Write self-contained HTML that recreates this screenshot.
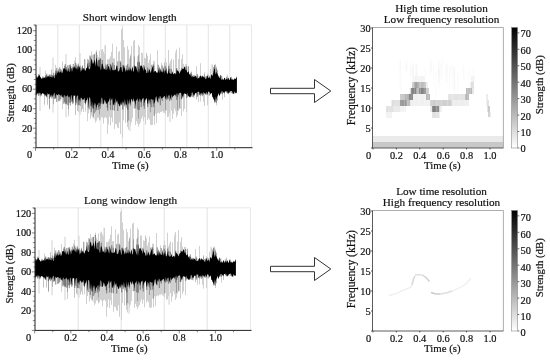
<!DOCTYPE html>
<html><head><meta charset="utf-8"><title>Window length and spectrogram resolution</title>
<style>
html,body{margin:0;padding:0;background:#fff}
svg{display:block}
text{font-family:"Liberation Serif",serif;fill:#111;stroke:#111;stroke-width:0.2px}
.tk{font-size:10.4px}
.lb{font-size:10.8px}
.lb2{font-size:11.5px}
.tt{font-size:11.2px}
</style></head><body>
<svg width="550" height="360" viewBox="0 0 550 360">
<defs><filter id="bl" x="-5%" y="-5%" width="110%" height="110%"><feGaussianBlur stdDeviation="0.6 0.3"/></filter><linearGradient id="cb" x1="0" y1="0" x2="0" y2="1"><stop offset="0" stop-color="#000"/><stop offset="1" stop-color="#fff"/></linearGradient></defs>
<rect width="550" height="360" fill="#fff"/>
<path d="M36 24.9H251.5V147.7" stroke="#e3e3e3" stroke-width="0.8" fill="none"/>
<line x1="57.8" y1="24.9" x2="57.8" y2="147.7" stroke="#dcdcdc" stroke-width="0.8"/>
<line x1="79.3" y1="24.9" x2="79.3" y2="147.7" stroke="#dcdcdc" stroke-width="0.8"/>
<line x1="100.8" y1="24.9" x2="100.8" y2="147.7" stroke="#dcdcdc" stroke-width="0.8"/>
<line x1="122.3" y1="24.9" x2="122.3" y2="147.7" stroke="#dcdcdc" stroke-width="0.8"/>
<line x1="143.8" y1="24.9" x2="143.8" y2="147.7" stroke="#dcdcdc" stroke-width="0.8"/>
<line x1="165.3" y1="24.9" x2="165.3" y2="147.7" stroke="#dcdcdc" stroke-width="0.8"/>
<line x1="186.8" y1="24.9" x2="186.8" y2="147.7" stroke="#dcdcdc" stroke-width="0.8"/>
<line x1="208.3" y1="24.9" x2="208.3" y2="147.7" stroke="#dcdcdc" stroke-width="0.8"/>
<line x1="229.8" y1="24.9" x2="229.8" y2="147.7" stroke="#dcdcdc" stroke-width="0.8"/>
<path d="M36.5 74.7V82.0M49.5 90.1V109.4M55.5 64.9V79.7M62.5 61.4V73.9M62.5 93.6V109.1M68.5 94.2V116.3M74.5 60.8V72.6M75.5 57.2V72.5M78.5 95.3V112.2M83.5 96.7V112.0M85.5 97.4V111.7M87.5 98.1V121.2M88.5 98.5V113.4M90.5 55.5V67.5M90.5 99.5V118.9M91.5 51.5V66.5M91.5 100.5V115.6M92.5 55.0V65.5M92.5 101.5V117.4M93.5 54.7V64.5M93.5 102.5V118.4M94.5 54.3V63.5M95.5 103.4V122.5M96.5 50.0V65.0M96.5 102.2V120.7M97.5 55.0V66.2M97.5 101.0V117.8M98.5 57.0V67.5M98.5 99.8V117.8M99.5 50.6V68.8M99.5 98.6V114.5M100.5 98.0V119.3M101.5 49.8V69.7M101.5 98.1V116.9M102.5 49.0V69.8M102.5 98.1V117.8M103.5 51.7V69.8M103.5 98.1V123.7M104.5 53.9V70.0M104.5 98.2V117.9M105.5 45.5V70.0M105.5 98.2V117.0M106.5 98.3V118.4M107.5 59.2V70.2M107.5 98.3V122.4M108.5 59.5V70.3M108.5 98.3V124.3M109.5 58.5V70.5M109.5 98.4V116.7M110.5 56.4V70.5M110.5 98.4V125.5M111.5 52.0V70.7M111.5 98.5V117.7M112.5 46.7V70.8M112.5 98.5V122.2M113.5 58.5V70.8M114.5 58.4V71.0M114.5 98.6V129.1M115.5 98.6V123.9M116.5 46.6V71.2M116.5 98.7V124.5M117.5 98.7V127.6M118.5 52.1V71.3M118.5 98.7V128.1M119.5 50.8V71.5M119.5 98.8V122.4M120.5 98.8V134.1M121.5 29.4V71.7M122.5 38.2V71.8M122.5 98.9V131.6M123.5 39.8V71.8M123.5 98.9V120.2M124.5 47.2V72.0M125.5 99.0V122.8M127.5 98.9V127.0M128.5 49.6V72.1M128.5 98.9V129.7M129.5 58.6V72.2M129.5 98.8V121.1M130.5 56.8V72.2M130.5 98.8V124.7M131.5 46.1V72.3M131.5 98.7V122.1M132.5 98.7V118.1M133.5 40.9V72.3M134.5 40.1V72.4M135.5 98.6V125.1M136.5 98.5V121.2M137.5 56.4V72.5M137.5 98.5V123.8M138.5 45.1V72.5M138.5 98.5V126.6M139.5 47.0V72.6M139.5 98.4V124.1M140.5 98.4V122.3M141.5 52.7V72.7M141.5 98.3V118.9M142.5 52.9V72.7M142.5 98.3V116.5M143.5 98.3V121.0M144.5 57.7V72.8M144.5 98.2V117.2M145.5 58.2V72.8M145.5 98.2V124.7M147.5 55.6V72.9M147.5 98.1V120.0M148.5 62.9V72.9M148.5 98.1V117.9M149.5 59.7V73.0M149.5 98.0V119.6M150.5 53.8V73.0M150.5 97.8V124.6M151.5 97.5V125.3M152.5 97.2V124.8M153.5 60.8V73.3M153.5 96.8V115.8M154.5 61.3V73.5M154.5 96.5V124.8M155.5 96.2V113.8M156.5 95.8V123.3M157.5 50.3V73.8M157.5 95.5V113.4M158.5 95.2V112.6M159.5 94.8V113.6M160.5 94.5V111.9M161.5 62.7V74.2M161.5 94.2V112.1M162.5 93.8V111.1M163.5 93.5V112.7M164.5 93.2V112.9M165.5 58.2V74.6M165.5 92.9V114.6M166.5 62.2V74.8M166.5 92.8V110.7M167.5 92.6V117.1M168.5 50.0V75.1M168.5 92.4V116.5M169.5 63.6V75.2M169.5 92.2V113.3M170.5 60.9V75.4M171.5 58.7V75.6M171.5 91.9V110.6M172.5 91.8V119.0M173.5 59.8V75.9M173.5 91.6V113.8M174.5 91.4V108.7M175.5 53.3V76.2M175.5 91.2V111.3M176.5 49.2V76.4M176.5 91.1V117.3M177.5 90.9V115.1M178.5 59.0V76.8M178.5 90.8V111.0M179.5 62.7V76.9M179.5 90.6V107.7M180.5 90.7V108.6M181.5 59.0V75.8M181.5 91.1V115.9M182.5 54.5V74.9M183.5 63.9V74.1M183.5 92.0V111.5M184.5 92.4V108.9M185.5 64.3V72.4M186.5 64.1V72.8M186.5 92.7V112.4M188.5 66.9V75.8M196.5 66.3V81.5M198.5 88.6V101.9M200.5 63.2V81.9M200.5 88.5V101.6M203.5 88.4V102.0M204.5 72.4V82.4M204.5 88.3V106.0M207.5 73.7V82.7M207.5 88.1V105.2M208.5 74.2V82.8M210.5 69.0V82.2M212.5 65.2V78.8M214.5 64.7V75.3M215.5 63.8V75.2M216.5 66.5V76.8M216.5 93.5V105.5M222.5 87.0V99.8M227.5 74.6V84.0M230.5 77.0V84.0M40.0 67.0V80.8M45.5 70.7V80.5M53.0 57.5V80.1M66.0 54.0V72.6M80.0 53.0V71.0M87.5 58.7V68.0M105.0 45.0V69.0M112.5 43.7V69.8M122.5 27.5V70.8M127.5 46.0V71.1M131.0 54.0V71.2M176.0 51.0V75.3M179.5 47.5V75.9M212.0 64.0V78.6M40.0 90.3V111.0M53.0 91.3V112.5M66.0 94.9V117.5M80.0 96.5V115.0M95.0 105.0V120.0M107.5 99.3V134.0M122.5 99.9V137.5M130.0 99.8V131.0M170.0 93.2V122.0" stroke="#d0d0d0" stroke-width="1" fill="none"/>
<path d="M37.25 76.3V94.4M38.75 74.0V96.0M39.25 76.6V94.6M46.25 75.0V95.9M46.75 73.7V97.3M49.25 74.5V98.5M51.75 74.6V98.4M52.25 75.7V96.6M52.75 75.5V95.7M53.75 72.8V95.5M54.25 75.1V99.0M55.25 75.2V98.9M55.75 70.5V98.1M56.75 67.8V102.0M58.75 69.2V101.2M59.75 67.3V100.7M60.75 68.9V99.4M63.75 68.7V103.7M64.75 65.8V102.2M65.25 64.1V103.8M66.25 67.0V104.4M67.75 65.3V105.1M69.25 65.1V102.8M70.25 64.3V105.5M70.75 65.8V102.5M71.75 67.8V101.7M72.75 66.9V104.2M73.25 64.0V102.7M75.75 63.0V105.2M76.75 64.9V103.3M78.25 63.7V105.2M79.25 66.7V105.3M84.75 59.2V102.9M88.25 59.8V107.5M89.25 62.5V109.4M90.75 56.6V106.1M91.25 61.2V112.2M94.25 54.2V113.4M96.25 52.2V110.3M98.25 60.2V109.9M98.75 60.2V107.0M99.75 59.6V106.0M100.25 58.3V108.7M101.75 63.8V103.4M102.25 60.0V104.2M107.25 64.7V107.5M107.75 64.1V110.7M110.25 63.7V105.1M110.75 64.5V109.8M112.75 62.7V110.1M114.25 65.0V110.6M117.75 61.4V110.9M120.25 60.9V104.0M120.75 62.6V104.8M122.75 65.1V109.6M124.25 65.9V106.3M126.25 65.4V107.6M127.75 64.3V109.7M134.25 65.9V108.6M135.75 67.1V108.3M137.75 61.9V109.7M139.25 62.5V110.0M141.25 66.7V107.1M143.75 65.1V105.6M144.25 66.4V108.8M147.75 67.4V107.1M151.75 64.8V107.3M153.25 64.4V103.5M153.75 65.8V106.9M158.25 64.7V102.5M160.25 68.6V105.3M162.25 65.4V101.0M165.25 66.0V98.6M168.75 65.9V98.9M169.75 68.5V101.1M171.25 69.2V100.1M176.75 68.0V99.9M177.75 71.1V97.3M181.25 70.7V99.1M181.75 67.9V99.2M186.75 66.3V98.1M190.75 73.3V95.1M191.25 71.7V96.3M191.75 74.3V95.3M192.25 75.7V97.1M193.75 75.1V97.5M197.25 74.0V96.9M197.75 75.6V95.5M199.75 76.4V94.9M202.25 75.5V96.3M203.25 76.6V95.1M205.75 76.4V93.9M209.25 75.5V95.7M213.75 67.0V99.2M214.25 69.1V99.4M214.75 65.1V101.8M216.25 68.2V102.9M217.25 70.0V100.5M220.75 75.1V94.2M221.75 76.1V93.2M222.25 78.8V94.3M226.75 76.6V92.2M227.75 78.2V93.5M228.25 78.1V92.8M231.25 76.9V93.2" stroke="#000" stroke-opacity="0.9" stroke-width="0.5" fill="none"/>
<path d="M44.5 90.7V104.8M47.5 90.9V104.8M49.5 91.1V108.4M51.5 69.5V80.2M53.5 91.4V104.2M66.5 95.0V103.5M68.5 95.2V109.3M75.5 96.0V115.1M77.5 96.2V110.9M80.5 96.7V106.0M81.5 97.0V111.7M82.5 97.4V108.9M89.5 55.5V67.2M93.5 103.5V116.8M95.5 104.4V111.8M99.5 59.7V67.8M99.5 99.6V120.5M100.5 58.4V68.5M127.5 99.9V122.2M128.5 99.9V120.4M130.5 55.4V71.2M134.5 56.6V71.4M138.5 54.9V71.5M138.5 99.5V118.5M139.5 61.5V71.6M146.5 52.9V71.9M150.5 98.8V112.3M154.5 97.5V116.2M164.5 62.7V73.5M165.5 93.9V110.2M177.5 91.9V110.2M179.5 91.6V108.9M188.5 65.8V74.8M196.5 89.8V99.4M200.5 89.5V96.0M204.5 73.9V81.4M214.5 69.2V74.3M214.5 95.8V103.2M220.5 74.9V81.5M224.5 88.0V97.2M228.5 88.0V94.1M232.5 88.0V93.8M233.5 88.0V92.5M234.5 88.0V94.2M236.5 76.4V83.0" stroke="#000" stroke-opacity="0.4" stroke-width="0.6" fill="none"/>
<polygon points="36.0,79.0 36.7,75.8 37.4,78.1 38.1,76.7 38.8,75.6 39.5,74.8 40.2,77.1 40.9,77.5 41.6,78.8 42.3,78.6 43.0,75.9 43.7,78.4 44.4,77.0 45.1,78.4 45.8,75.4 46.5,78.2 47.2,75.5 47.9,77.3 48.6,75.6 49.3,77.6 50.0,74.1 50.7,76.9 51.4,77.3 52.1,77.2 52.8,77.7 53.5,75.8 54.2,78.1 54.9,78.2 55.6,72.2 56.3,75.4 57.0,69.9 57.7,73.5 58.4,70.5 59.1,73.3 59.8,72.0 60.5,72.1 61.2,70.1 61.9,73.4 62.6,72.3 63.3,68.6 64.0,68.5 64.7,68.2 65.4,70.0 66.1,68.3 66.8,71.0 67.5,71.7 68.2,67.6 68.9,71.0 69.6,72.5 70.3,65.9 71.0,72.4 71.7,67.7 72.4,71.9 73.1,66.6 73.8,68.8 74.5,65.5 75.2,68.9 75.9,66.5 76.6,69.7 77.3,65.8 78.0,70.2 78.7,65.2 79.4,68.1 80.1,65.1 80.8,71.8 81.5,70.0 82.2,64.5 82.9,70.2 83.6,67.8 84.3,68.7 85.0,70.8 85.7,70.6 86.4,67.4 87.1,68.2 87.8,62.5 88.5,68.2 89.2,69.2 89.9,69.2 90.6,66.6 91.3,59.0 92.0,59.6 92.7,63.7 93.4,63.4 94.1,61.5 94.8,59.2 95.5,66.7 96.2,57.5 96.9,59.4 97.6,65.3 98.3,67.2 99.0,66.1 99.7,67.1 100.4,69.0 101.1,70.3 101.8,65.2 102.5,63.3 103.2,66.2 103.9,69.5 104.6,68.4 105.3,70.3 106.0,63.1 106.7,70.1 107.4,69.4 108.1,66.7 108.8,65.8 109.5,68.7 110.2,71.0 110.9,69.2 111.6,65.1 112.3,70.4 113.0,69.4 113.7,70.5 114.4,69.9 115.1,70.2 115.8,69.1 116.5,65.5 117.2,65.7 117.9,71.5 118.6,71.2 119.3,70.5 120.0,67.5 120.7,66.9 121.4,67.0 122.1,71.7 122.8,71.7 123.5,64.2 124.2,68.8 124.9,67.1 125.6,72.0 126.3,68.6 127.0,71.5 127.7,70.0 128.4,70.3 129.1,66.1 129.8,71.1 130.5,67.5 131.2,71.5 131.9,69.0 132.6,66.3 133.3,72.0 134.0,70.7 134.7,64.9 135.4,66.7 136.1,66.1 136.8,69.2 137.5,71.2 138.2,72.7 138.9,66.4 139.6,72.8 140.3,65.6 141.0,65.7 141.7,65.5 142.4,67.5 143.1,68.8 143.8,71.2 144.5,67.0 145.2,69.6 145.9,70.3 146.6,72.9 147.3,73.0 148.0,68.8 148.7,73.0 149.4,68.6 150.1,71.1 150.8,73.1 151.5,70.1 152.2,67.8 152.9,65.7 153.6,72.5 154.3,71.6 155.0,70.9 155.7,70.9 156.4,72.7 157.1,72.1 157.8,73.3 158.5,70.3 159.2,66.3 159.9,73.3 160.6,69.2 161.3,70.9 162.0,72.3 162.7,72.3 163.4,66.8 164.1,73.4 164.8,70.6 165.5,71.1 166.2,67.6 166.9,73.3 167.6,73.9 168.3,68.5 169.0,72.9 169.7,72.5 170.4,74.0 171.1,73.6 171.8,73.7 172.5,70.9 173.2,74.2 173.9,74.1 174.6,73.1 175.3,73.2 176.0,74.7 176.7,68.9 177.4,70.4 178.1,71.0 178.8,71.7 179.5,73.7 180.2,71.9 180.9,70.1 181.6,70.5 182.3,68.6 183.0,68.9 183.7,68.8 184.4,66.6 185.1,67.1 185.8,70.4 186.5,69.6 187.2,72.8 187.9,72.0 188.6,71.3 189.3,74.7 190.0,73.6 190.7,75.8 191.4,77.0 192.1,77.2 192.8,76.1 193.5,76.9 194.2,77.0 194.9,75.3 195.6,76.2 196.3,76.5 197.0,78.4 197.7,78.6 198.4,77.7 199.1,78.6 199.8,76.5 200.5,75.4 201.2,76.2 201.9,77.7 202.6,75.8 203.3,76.5 204.0,77.6 204.7,77.2 205.4,78.9 206.1,79.3 206.8,75.7 207.5,75.5 208.2,78.0 208.9,77.7 209.6,76.8 210.3,79.2 211.0,75.7 211.7,74.1 212.4,76.3 213.1,73.7 213.8,70.7 214.5,68.2 215.2,72.4 215.9,74.6 216.6,71.7 217.3,73.5 218.0,75.1 218.7,76.5 219.4,78.4 220.1,75.2 220.8,78.5 221.5,79.9 222.2,80.1 222.9,78.6 223.6,80.2 224.3,77.8 225.0,77.9 225.7,80.2 226.4,78.4 227.1,79.6 227.8,79.7 228.5,77.4 229.2,80.2 229.9,79.3 230.6,76.9 231.3,80.1 232.0,78.5 232.7,79.8 233.4,79.8 234.1,79.5 234.8,78.1 235.5,79.3 236.2,78.1 236.9,77.1 236.9,93.6 236.2,92.6 235.5,93.4 234.8,91.2 234.1,92.7 233.4,94.3 232.7,93.3 232.0,91.1 231.3,90.9 230.6,91.2 229.9,91.5 229.2,93.0 228.5,93.5 227.8,91.1 227.1,93.8 226.4,90.8 225.7,91.4 225.0,91.6 224.3,93.5 223.6,92.7 222.9,91.6 222.2,91.3 221.5,91.2 220.8,92.6 220.1,94.3 219.4,96.6 218.7,93.1 218.0,95.5 217.3,96.0 216.6,99.8 215.9,96.5 215.2,102.6 214.5,100.2 213.8,99.2 213.1,97.3 212.4,97.3 211.7,93.0 211.0,93.1 210.3,94.8 209.6,92.2 208.9,91.6 208.2,91.8 207.5,95.3 206.8,91.5 206.1,95.6 205.4,93.6 204.7,92.8 204.0,94.1 203.3,91.8 202.6,93.5 201.9,94.9 201.2,92.7 200.5,93.6 199.8,95.6 199.1,91.7 198.4,91.7 197.7,91.9 197.0,92.3 196.3,93.8 195.6,92.7 194.9,94.0 194.2,95.7 193.5,95.6 192.8,92.9 192.1,92.0 191.4,92.8 190.7,96.7 190.0,97.4 189.3,96.7 188.6,95.4 187.9,97.3 187.2,93.1 186.5,95.1 185.8,93.7 185.1,94.0 184.4,93.2 183.7,94.2 183.0,97.9 182.3,96.3 181.6,94.3 180.9,92.6 180.2,92.9 179.5,93.0 178.8,93.5 178.1,95.8 177.4,92.9 176.7,93.2 176.0,97.0 175.3,94.6 174.6,94.7 173.9,95.5 173.2,96.0 172.5,98.0 171.8,94.3 171.1,97.0 170.4,99.7 169.7,94.4 169.0,96.0 168.3,94.7 167.6,99.9 166.9,94.4 166.2,100.6 165.5,97.9 164.8,96.2 164.1,96.1 163.4,97.2 162.7,98.0 162.0,97.6 161.3,99.2 160.6,96.5 159.9,95.7 159.2,99.5 158.5,97.1 157.8,100.7 157.1,102.5 156.4,96.2 155.7,97.3 155.0,101.9 154.3,103.8 153.6,98.7 152.9,100.7 152.2,99.2 151.5,99.2 150.8,98.7 150.1,105.6 149.4,100.0 148.7,99.2 148.0,104.6 147.3,102.9 146.6,97.9 145.9,99.0 145.2,100.4 144.5,103.6 143.8,97.8 143.1,98.3 142.4,98.9 141.7,100.2 141.0,103.4 140.3,99.6 139.6,98.5 138.9,102.3 138.2,100.4 137.5,97.9 136.8,100.9 136.1,99.3 135.4,106.2 134.7,100.5 134.0,102.1 133.3,98.0 132.6,102.5 131.9,98.7 131.2,99.6 130.5,106.7 129.8,98.7 129.1,104.9 128.4,102.7 127.7,98.7 127.0,103.7 126.3,105.2 125.6,104.2 124.9,98.8 124.2,105.4 123.5,101.6 122.8,103.7 122.1,100.6 121.4,106.0 120.7,101.6 120.0,106.4 119.3,106.1 118.6,104.0 117.9,103.3 117.2,100.2 116.5,103.1 115.8,98.2 115.1,105.9 114.4,101.9 113.7,104.7 113.0,105.2 112.3,97.9 111.6,100.4 110.9,97.5 110.2,101.0 109.5,97.9 108.8,102.3 108.1,100.9 107.4,103.6 106.7,103.5 106.0,103.8 105.3,101.0 104.6,99.6 103.9,104.5 103.2,103.5 102.5,98.8 101.8,97.6 101.1,98.5 100.4,104.5 99.7,102.8 99.0,102.5 98.3,103.0 97.6,104.7 96.9,105.5 96.2,109.0 95.5,102.9 94.8,105.5 94.1,102.4 93.4,108.8 92.7,108.8 92.0,100.9 91.3,107.5 90.6,99.8 89.9,97.4 89.2,97.3 88.5,106.6 87.8,97.2 87.1,99.6 86.4,100.6 85.7,105.0 85.0,100.2 84.3,97.4 83.6,99.4 82.9,100.3 82.2,99.1 81.5,98.0 80.8,97.6 80.1,102.5 79.4,98.8 78.7,101.4 78.0,95.5 77.3,95.7 76.6,96.5 75.9,102.9 75.2,95.2 74.5,95.9 73.8,95.1 73.1,96.5 72.4,102.2 71.7,95.5 71.0,94.9 70.3,100.2 69.6,96.5 68.9,96.4 68.2,97.3 67.5,94.9 66.8,95.9 66.1,96.3 65.4,96.7 64.7,95.2 64.0,94.9 63.3,98.5 62.6,96.5 61.9,97.6 61.2,94.5 60.5,96.1 59.8,94.8 59.1,94.6 58.4,94.0 57.7,95.4 57.0,94.7 56.3,93.7 55.6,97.8 54.9,93.2 54.2,93.1 53.5,94.2 52.8,94.9 52.1,97.5 51.4,94.1 50.7,97.8 50.0,94.5 49.3,93.6 48.6,94.1 47.9,95.0 47.2,92.7 46.5,97.3 45.8,94.3 45.1,96.4 44.4,94.3 43.7,94.3 43.0,93.1 42.3,93.5 41.6,94.3 40.9,96.7 40.2,93.0 39.5,93.1 38.8,92.3 38.1,94.5 37.4,92.7 36.7,93.9 36.0,96.0" fill="#000"/>
<path d="M36 24.9V147.7H252.5" stroke="#222" stroke-width="1" fill="none"/>
<path d="M36 147.70h-3.2M36 142.82h-1.5M36 137.95h-2.2M36 133.07h-1.5M36 128.20h-3.2M36 123.32h-1.5M36 118.45h-2.2M36 113.57h-1.5M36 108.70h-3.2M36 103.82h-1.5M36 98.95h-2.2M36 94.07h-1.5M36 89.20h-3.2M36 84.32h-1.5M36 79.45h-2.2M36 74.57h-1.5M36 69.70h-3.2M36 64.82h-1.5M36 59.95h-2.2M36 55.07h-1.5M36 50.20h-3.2M36 45.32h-1.5M36 40.45h-2.2M36 35.57h-1.5M36 30.70h-3.2M36 25.82h-1.5M36 24.9h-2.5M35.50 147.7v3.0M53.62 147.7v1.8M71.74 147.7v3.0M89.86 147.7v1.8M107.98 147.7v3.0M126.10 147.7v1.8M144.22 147.7v3.0M162.34 147.7v1.8M180.46 147.7v3.0M198.58 147.7v1.8M216.70 147.7v3.0M234.82 147.7v1.8" stroke="#333" stroke-width="0.6" fill="none"/>
<text x="32.3" y="132" text-anchor="end" class="tk">20</text>
<text x="32.3" y="112" text-anchor="end" class="tk">40</text>
<text x="32.3" y="92" text-anchor="end" class="tk">60</text>
<text x="32.3" y="73" text-anchor="end" class="tk">80</text>
<text x="32.3" y="53" text-anchor="end" class="tk">100</text>
<text x="32.3" y="34" text-anchor="end" class="tk">120</text>
<text x="29.7" y="158.29999999999998" text-anchor="middle" class="tk">0</text>
<text x="71.7" y="158.29999999999998" text-anchor="middle" class="tk">0.2</text>
<text x="108.0" y="158.29999999999998" text-anchor="middle" class="tk">0.4</text>
<text x="144.2" y="158.29999999999998" text-anchor="middle" class="tk">0.6</text>
<text x="180.5" y="158.29999999999998" text-anchor="middle" class="tk">0.8</text>
<text x="216.7" y="158.29999999999998" text-anchor="middle" class="tk">1.0</text>
<text x="130.3" y="169.1" text-anchor="middle" class="lb">Time (s)</text>
<text transform="translate(13.8,92.69999999999999) rotate(-90)" text-anchor="middle" class="lb">Strength (dB)</text>
<text x="129.8" y="20.7" text-anchor="middle" class="tt">Short window length</text>
<path d="M35 207.8H250.5V330.4" stroke="#e3e3e3" stroke-width="0.8" fill="none"/>
<line x1="78.2" y1="207.8" x2="78.2" y2="330.4" stroke="#dcdcdc" stroke-width="0.8"/>
<line x1="121.2" y1="207.8" x2="121.2" y2="330.4" stroke="#dcdcdc" stroke-width="0.8"/>
<line x1="164.2" y1="207.8" x2="164.2" y2="330.4" stroke="#dcdcdc" stroke-width="0.8"/>
<line x1="207.2" y1="207.8" x2="207.2" y2="330.4" stroke="#dcdcdc" stroke-width="0.8"/>
<path d="M35.5 257.4V264.7M48.5 272.8V292.1M54.5 247.6V262.4M61.5 244.1V256.6M61.5 276.3V291.8M67.5 276.9V299.0M73.5 243.5V255.3M74.5 239.9V255.2M77.5 278.0V294.9M82.5 279.4V294.7M84.5 280.1V294.4M86.5 280.8V303.9M87.5 281.2V296.1M89.5 238.2V250.2M89.5 282.2V301.6M90.5 234.2V249.2M90.5 283.2V298.3M91.5 237.7V248.2M91.5 284.2V300.1M92.5 237.4V247.2M92.5 285.2V301.1M93.5 237.0V246.2M94.5 286.1V305.2M95.5 232.7V247.6M95.5 284.9V303.4M96.5 237.7V248.9M96.5 283.7V300.5M97.5 239.7V250.2M97.5 282.5V300.5M98.5 233.3V251.5M98.5 281.3V297.2M99.5 280.7V302.0M100.5 232.5V252.3M100.5 280.8V299.6M101.5 231.7V252.4M101.5 280.8V300.5M102.5 234.4V252.5M102.5 280.8V306.4M103.5 236.6V252.6M103.5 280.9V300.6M104.5 228.2V252.8M104.5 280.9V299.7M105.5 281.0V301.1M106.5 241.9V252.9M106.5 281.0V305.1M107.5 242.2V253.0M107.5 281.0V307.0M108.5 241.2V253.1M108.5 281.1V299.4M109.5 239.1V253.2M109.5 281.1V308.2M110.5 234.7V253.3M110.5 281.2V300.4M111.5 229.4V253.4M111.5 281.2V304.9M112.5 241.2V253.5M113.5 241.1V253.6M113.5 281.3V311.8M114.5 281.3V306.6M115.5 229.3V253.8M115.5 281.4V307.2M116.5 281.4V310.3M117.5 234.8V254.0M117.5 281.4V310.8M118.5 233.5V254.1M118.5 281.5V305.1M119.5 281.5V316.8M120.5 212.1V254.3M121.5 220.9V254.4M121.5 281.6V314.3M122.5 222.5V254.5M122.5 281.6V302.9M123.5 229.9V254.6M124.5 281.7V305.5M126.5 281.6V309.7M127.5 232.3V254.8M127.5 281.6V312.4M128.5 241.3V254.9M128.5 281.5V303.8M129.5 239.5V254.9M129.5 281.5V307.4M130.5 228.8V255.0M130.5 281.4V304.8M131.5 281.4V300.8M132.5 223.6V255.0M133.5 222.8V255.1M134.5 281.3V307.8M135.5 281.2V303.9M136.5 239.1V255.2M136.5 281.2V306.5M137.5 227.8V255.2M137.5 281.2V309.3M138.5 229.7V255.3M138.5 281.1V306.8M139.5 281.1V305.0M140.5 235.4V255.4M140.5 281.0V301.6M141.5 235.6V255.4M141.5 281.0V299.2M142.5 281.0V303.7M143.5 240.4V255.5M143.5 280.9V299.9M144.5 240.9V255.5M144.5 280.9V307.4M146.5 238.3V255.6M146.5 280.8V302.7M147.5 245.6V255.6M147.5 280.8V300.6M148.5 242.4V255.7M148.5 280.7V302.3M149.5 236.5V255.8M149.5 280.5V307.3M150.5 280.2V308.0M151.5 279.9V307.5M152.5 243.5V256.0M152.5 279.5V298.5M153.5 244.0V256.1M153.5 279.2V307.5M154.5 278.9V296.5M155.5 278.5V306.0M156.5 233.0V256.4M156.5 278.2V296.1M157.5 277.9V295.3M158.5 277.5V296.3M159.5 277.2V294.6M160.5 245.4V256.9M160.5 276.9V294.8M161.5 276.5V293.8M162.5 276.2V295.4M163.5 275.9V295.6M164.5 240.9V257.3M164.5 275.6V297.3M165.5 244.9V257.4M165.5 275.4V293.4M166.5 275.3V299.8M167.5 232.7V257.8M167.5 275.1V299.2M168.5 246.3V257.9M168.5 274.9V296.0M169.5 243.6V258.1M170.5 241.4V258.3M170.5 274.6V293.3M171.5 274.4V301.7M172.5 242.5V258.6M172.5 274.3V296.5M173.5 274.1V291.4M174.5 236.0V258.9M174.5 273.9V294.0M175.5 231.9V259.1M175.5 273.8V300.0M176.5 273.6V297.8M177.5 241.7V259.4M177.5 273.4V293.7M178.5 245.4V259.6M178.5 273.3V290.4M179.5 273.4V291.3M180.5 241.7V258.4M180.5 273.8V298.6M181.5 237.2V257.6M182.5 246.6V256.8M182.5 274.7V294.2M183.5 275.1V291.6M184.5 247.0V255.1M185.5 246.8V255.4M185.5 275.4V295.1M187.5 249.6V258.4M195.5 249.0V264.2M197.5 271.3V284.6M199.5 245.9V264.6M199.5 271.2V284.3M202.5 271.1V284.7M203.5 255.1V265.1M203.5 271.0V288.7M206.5 256.4V265.4M206.5 270.8V287.9M207.5 256.9V265.5M209.5 251.7V264.9M211.5 247.9V261.4M213.5 247.4V258.0M214.5 246.5V257.9M215.5 249.2V259.4M215.5 276.2V288.2M221.5 269.7V282.5M226.5 257.3V266.7M229.5 259.7V266.7M39.0 249.7V263.5M44.5 253.4V263.2M52.0 240.2V262.8M65.0 236.7V255.3M79.0 235.7V253.7M86.5 241.4V250.7M104.0 227.7V251.7M111.5 226.4V252.4M121.5 210.2V253.4M126.5 228.7V253.8M130.0 236.7V253.9M175.0 233.7V258.0M178.5 230.2V258.6M211.0 246.7V261.3M39.0 273.0V293.7M52.0 274.0V295.2M65.0 277.6V300.2M79.0 279.2V297.7M94.0 287.7V302.7M106.5 282.0V316.7M121.5 282.6V320.2M129.0 282.5V313.7M169.0 275.9V304.7" stroke="#d0d0d0" stroke-width="1" fill="none"/>
<path d="M36.25 259.0V277.1M37.75 256.7V278.7M38.25 259.3V277.3M45.25 257.7V278.6M45.75 256.4V280.0M48.25 257.2V281.2M50.75 257.3V281.1M51.25 258.4V279.3M51.75 258.2V278.4M52.75 255.5V278.2M53.25 257.8V281.7M54.25 257.9V281.6M54.75 253.2V280.8M55.75 250.5V284.7M57.75 251.9V283.9M58.75 250.0V283.4M59.75 251.6V282.1M62.75 251.4V286.4M63.75 248.5V284.9M64.25 246.8V286.5M65.25 249.7V287.1M66.75 248.0V287.8M68.25 247.8V285.5M69.25 247.0V288.2M69.75 248.5V285.2M70.75 250.5V284.4M71.75 249.6V286.9M72.25 246.7V285.4M74.75 245.7V287.9M75.75 247.6V286.0M77.25 246.4V287.9M78.25 249.4V288.0M83.75 241.9V285.6M87.25 242.5V290.2M88.25 245.2V292.1M89.75 239.3V288.8M90.25 243.9V294.9M93.25 236.9V296.1M95.25 234.9V293.0M97.25 242.9V292.6M97.75 242.9V289.7M98.75 242.3V288.7M99.25 241.0V291.4M100.75 246.5V286.1M101.25 242.7V286.9M106.25 247.4V290.2M106.75 246.8V293.4M109.25 246.4V287.8M109.75 247.2V292.5M111.75 245.4V292.8M113.25 247.7V293.3M116.75 244.1V293.6M119.25 243.6V286.7M119.75 245.3V287.5M121.75 247.8V292.3M123.25 248.6V289.0M125.25 248.1V290.3M126.75 247.0V292.4M133.25 248.6V291.3M134.75 249.8V291.0M136.75 244.6V292.4M138.25 245.2V292.7M140.25 249.4V289.8M142.75 247.8V288.3M143.25 249.1V291.5M146.75 250.1V289.8M150.75 247.5V290.0M152.25 247.1V286.2M152.75 248.5V289.6M157.25 247.4V285.2M159.25 251.3V288.0M161.25 248.1V283.7M164.25 248.7V281.3M167.75 248.6V281.6M168.75 251.2V283.8M170.25 251.9V282.8M175.75 250.7V282.6M176.75 253.8V280.0M180.25 253.4V281.8M180.75 250.6V281.9M185.75 249.0V280.8M189.75 256.0V277.8M190.25 254.4V279.0M190.75 257.0V278.0M191.25 258.4V279.8M192.75 257.8V280.2M196.25 256.7V279.6M196.75 258.3V278.2M198.75 259.1V277.6M201.25 258.2V279.0M202.25 259.3V277.8M204.75 259.1V276.6M208.25 258.2V278.4M212.75 249.7V281.9M213.25 251.8V282.1M213.75 247.8V284.5M215.25 250.9V285.6M216.25 252.7V283.2M219.75 257.8V276.9M220.75 258.8V275.9M221.25 261.5V277.0M225.75 259.3V274.9M226.75 260.9V276.2M227.25 260.8V275.5M230.25 259.6V275.9" stroke="#000" stroke-opacity="0.9" stroke-width="0.5" fill="none"/>
<path d="M43.5 273.4V287.5M46.5 273.6V287.5M48.5 273.8V291.1M50.5 252.2V262.9M52.5 274.1V286.9M65.5 277.7V286.2M67.5 277.9V292.0M74.5 278.7V297.8M76.5 278.9V293.6M79.5 279.4V288.7M80.5 279.7V294.4M81.5 280.1V291.6M88.5 238.2V249.9M92.5 286.2V299.5M94.5 287.1V294.5M98.5 242.4V250.5M98.5 282.3V303.2M99.5 241.1V251.2M126.5 282.6V304.9M127.5 282.6V303.1M129.5 238.1V253.9M133.5 239.3V254.1M137.5 237.6V254.2M137.5 282.2V301.2M138.5 244.2V254.3M145.5 235.6V254.6M149.5 281.5V295.0M153.5 280.2V298.9M163.5 245.4V256.1M164.5 276.6V292.9M176.5 274.6V292.9M178.5 274.3V291.6M187.5 248.5V257.4M195.5 272.4V282.1M199.5 272.2V278.7M203.5 256.6V264.1M213.5 251.9V257.0M213.5 278.4V285.9M219.5 257.6V264.2M223.5 270.7V279.9M227.5 270.7V276.8M231.5 270.7V276.5M232.5 270.7V275.2M233.5 270.7V276.9M235.5 259.1V265.7" stroke="#000" stroke-opacity="0.4" stroke-width="0.6" fill="none"/>
<polygon points="35.0,261.7 35.7,258.5 36.4,260.8 37.1,259.4 37.8,258.3 38.5,257.5 39.2,259.8 39.9,260.2 40.6,261.5 41.3,261.3 42.0,258.6 42.7,261.1 43.4,259.7 44.1,261.1 44.8,258.1 45.5,260.9 46.2,258.2 46.9,260.0 47.6,258.3 48.3,260.3 49.0,256.8 49.7,259.6 50.4,260.0 51.1,259.9 51.8,260.4 52.5,258.5 53.2,260.8 53.9,260.9 54.6,254.9 55.3,258.1 56.0,252.6 56.7,256.2 57.4,253.2 58.1,256.0 58.8,254.7 59.5,254.8 60.2,252.8 60.9,256.1 61.6,255.0 62.3,251.3 63.0,251.2 63.7,250.9 64.4,252.7 65.1,251.0 65.8,253.7 66.5,254.4 67.2,250.3 67.9,253.7 68.6,255.2 69.3,248.6 70.0,255.1 70.7,250.4 71.4,254.6 72.1,249.3 72.8,251.5 73.5,248.2 74.2,251.6 74.9,249.2 75.6,252.4 76.3,248.5 77.0,252.9 77.7,247.9 78.4,250.8 79.1,247.8 79.8,254.5 80.5,252.7 81.2,247.2 81.9,252.9 82.6,250.5 83.3,251.4 84.0,253.5 84.7,253.3 85.4,250.1 86.1,250.9 86.8,245.2 87.5,250.9 88.2,251.9 88.9,251.9 89.6,249.3 90.3,241.7 91.0,242.3 91.7,246.4 92.4,246.1 93.1,244.2 93.8,241.9 94.5,249.4 95.2,240.2 95.9,242.1 96.6,248.0 97.3,249.9 98.0,248.8 98.7,249.8 99.4,251.7 100.1,253.0 100.8,247.9 101.5,246.0 102.2,248.9 102.9,252.2 103.6,251.1 104.3,253.0 105.0,245.8 105.7,252.8 106.4,252.1 107.1,249.4 107.8,248.5 108.5,251.4 109.2,253.7 109.9,251.9 110.6,247.8 111.3,253.1 112.0,252.1 112.7,253.2 113.4,252.6 114.1,252.9 114.8,251.8 115.5,248.2 116.2,248.4 116.9,254.2 117.6,253.9 118.3,253.2 119.0,250.2 119.7,249.6 120.4,249.7 121.1,254.4 121.8,254.4 122.5,246.9 123.2,251.5 123.9,249.8 124.6,254.7 125.3,251.3 126.0,254.2 126.7,252.7 127.4,253.0 128.1,248.8 128.8,253.8 129.5,250.2 130.2,254.2 130.9,251.7 131.6,249.0 132.3,254.7 133.0,253.4 133.7,247.6 134.4,249.4 135.1,248.8 135.8,251.9 136.5,253.9 137.2,255.4 137.9,249.1 138.6,255.5 139.3,248.3 140.0,248.4 140.7,248.2 141.4,250.2 142.1,251.5 142.8,253.9 143.5,249.7 144.2,252.3 144.9,253.0 145.6,255.6 146.3,255.7 147.0,251.5 147.7,255.7 148.4,251.3 149.1,253.8 149.8,255.8 150.5,252.8 151.2,250.5 151.9,248.4 152.6,255.2 153.3,254.3 154.0,253.6 154.7,253.6 155.4,255.4 156.1,254.8 156.8,256.0 157.5,253.0 158.2,249.0 158.9,256.0 159.6,251.9 160.3,253.6 161.0,255.0 161.7,255.0 162.4,249.5 163.1,256.1 163.8,253.3 164.5,253.8 165.2,250.3 165.9,256.0 166.6,256.6 167.3,251.2 168.0,255.6 168.7,255.2 169.4,256.7 170.1,256.3 170.8,256.4 171.5,253.6 172.2,256.9 172.9,256.8 173.6,255.8 174.3,255.9 175.0,257.4 175.7,251.6 176.4,253.1 177.1,253.7 177.8,254.4 178.5,256.4 179.2,254.6 179.9,252.8 180.6,253.2 181.3,251.3 182.0,251.6 182.7,251.5 183.4,249.3 184.1,249.8 184.8,253.1 185.5,252.3 186.2,255.5 186.9,254.7 187.6,254.0 188.3,257.4 189.0,256.3 189.7,258.5 190.4,259.7 191.1,259.9 191.8,258.8 192.5,259.6 193.2,259.7 193.9,258.0 194.6,258.9 195.3,259.2 196.0,261.1 196.7,261.3 197.4,260.4 198.1,261.3 198.8,259.2 199.5,258.1 200.2,258.9 200.9,260.4 201.6,258.5 202.3,259.2 203.0,260.3 203.7,259.9 204.4,261.6 205.1,262.0 205.8,258.4 206.5,258.2 207.2,260.7 207.9,260.4 208.6,259.5 209.3,261.9 210.0,258.4 210.7,256.8 211.4,259.0 212.1,256.4 212.8,253.4 213.5,250.9 214.2,255.1 214.9,257.3 215.6,254.4 216.3,256.2 217.0,257.8 217.7,259.2 218.4,261.1 219.1,257.9 219.8,261.2 220.5,262.6 221.2,262.8 221.9,261.3 222.6,262.9 223.3,260.5 224.0,260.6 224.7,262.9 225.4,261.1 226.1,262.3 226.8,262.4 227.5,260.1 228.2,262.9 228.9,262.0 229.6,259.6 230.3,262.8 231.0,261.2 231.7,262.5 232.4,262.5 233.1,262.2 233.8,260.8 234.5,262.0 235.2,260.8 235.9,259.8 235.9,276.3 235.2,275.3 234.5,276.1 233.8,273.9 233.1,275.4 232.4,277.0 231.7,276.0 231.0,273.8 230.3,273.6 229.6,273.9 228.9,274.2 228.2,275.7 227.5,276.2 226.8,273.8 226.1,276.5 225.4,273.5 224.7,274.1 224.0,274.3 223.3,276.2 222.6,275.4 221.9,274.3 221.2,274.0 220.5,273.9 219.8,275.3 219.1,277.0 218.4,279.3 217.7,275.8 217.0,278.2 216.3,278.7 215.6,282.5 214.9,279.2 214.2,285.3 213.5,282.9 212.8,281.9 212.1,280.0 211.4,280.0 210.7,275.7 210.0,275.8 209.3,277.5 208.6,274.9 207.9,274.3 207.2,274.5 206.5,278.0 205.8,274.2 205.1,278.3 204.4,276.3 203.7,275.5 203.0,276.8 202.3,274.5 201.6,276.2 200.9,277.6 200.2,275.4 199.5,276.3 198.8,278.3 198.1,274.4 197.4,274.4 196.7,274.6 196.0,275.0 195.3,276.5 194.6,275.4 193.9,276.7 193.2,278.4 192.5,278.3 191.8,275.6 191.1,274.7 190.4,275.5 189.7,279.4 189.0,280.1 188.3,279.4 187.6,278.1 186.9,280.0 186.2,275.8 185.5,277.8 184.8,276.4 184.1,276.7 183.4,275.9 182.7,276.9 182.0,280.6 181.3,279.0 180.6,277.0 179.9,275.3 179.2,275.6 178.5,275.7 177.8,276.2 177.1,278.5 176.4,275.6 175.7,275.9 175.0,279.7 174.3,277.3 173.6,277.4 172.9,278.2 172.2,278.7 171.5,280.7 170.8,277.0 170.1,279.7 169.4,282.4 168.7,277.1 168.0,278.7 167.3,277.4 166.6,282.6 165.9,277.1 165.2,283.3 164.5,280.6 163.8,278.9 163.1,278.8 162.4,279.9 161.7,280.7 161.0,280.3 160.3,281.9 159.6,279.2 158.9,278.4 158.2,282.2 157.5,279.8 156.8,283.4 156.1,285.2 155.4,278.9 154.7,280.0 154.0,284.6 153.3,286.5 152.6,281.4 151.9,283.4 151.2,281.9 150.5,281.9 149.8,281.4 149.1,288.3 148.4,282.7 147.7,281.9 147.0,287.3 146.3,285.6 145.6,280.6 144.9,281.7 144.2,283.1 143.5,286.3 142.8,280.5 142.1,281.0 141.4,281.6 140.7,282.9 140.0,286.1 139.3,282.3 138.6,281.2 137.9,285.0 137.2,283.1 136.5,280.6 135.8,283.6 135.1,282.0 134.4,288.9 133.7,283.2 133.0,284.8 132.3,280.7 131.6,285.2 130.9,281.4 130.2,282.3 129.5,289.4 128.8,281.4 128.1,287.6 127.4,285.4 126.7,281.4 126.0,286.4 125.3,287.9 124.6,286.9 123.9,281.5 123.2,288.1 122.5,284.3 121.8,286.4 121.1,283.3 120.4,288.7 119.7,284.3 119.0,289.1 118.3,288.8 117.6,286.7 116.9,286.0 116.2,282.9 115.5,285.8 114.8,280.9 114.1,288.6 113.4,284.6 112.7,287.4 112.0,287.9 111.3,280.6 110.6,283.1 109.9,280.2 109.2,283.7 108.5,280.6 107.8,285.0 107.1,283.6 106.4,286.3 105.7,286.2 105.0,286.5 104.3,283.7 103.6,282.3 102.9,287.2 102.2,286.2 101.5,281.5 100.8,280.3 100.1,281.2 99.4,287.2 98.7,285.5 98.0,285.2 97.3,285.7 96.6,287.4 95.9,288.2 95.2,291.7 94.5,285.6 93.8,288.2 93.1,285.1 92.4,291.5 91.7,291.5 91.0,283.6 90.3,290.2 89.6,282.5 88.9,280.1 88.2,280.0 87.5,289.3 86.8,279.9 86.1,282.3 85.4,283.3 84.7,287.7 84.0,282.9 83.3,280.1 82.6,282.1 81.9,283.0 81.2,281.8 80.5,280.7 79.8,280.3 79.1,285.2 78.4,281.5 77.7,284.1 77.0,278.2 76.3,278.4 75.6,279.2 74.9,285.6 74.2,277.9 73.5,278.6 72.8,277.8 72.1,279.2 71.4,284.9 70.7,278.2 70.0,277.6 69.3,282.9 68.6,279.2 67.9,279.1 67.2,280.0 66.5,277.6 65.8,278.6 65.1,279.0 64.4,279.4 63.7,277.9 63.0,277.6 62.3,281.2 61.6,279.2 60.9,280.3 60.2,277.2 59.5,278.8 58.8,277.5 58.1,277.3 57.4,276.7 56.7,278.1 56.0,277.4 55.3,276.4 54.6,280.5 53.9,275.9 53.2,275.8 52.5,276.9 51.8,277.6 51.1,280.2 50.4,276.8 49.7,280.5 49.0,277.2 48.3,276.3 47.6,276.8 46.9,277.7 46.2,275.4 45.5,280.0 44.8,277.0 44.1,279.1 43.4,277.0 42.7,277.0 42.0,275.8 41.3,276.2 40.6,277.0 39.9,279.4 39.2,275.7 38.5,275.8 37.8,275.0 37.1,277.2 36.4,275.4 35.7,276.6 35.0,278.7" fill="#000"/>
<path d="M35 207.8V330.4H251.5" stroke="#222" stroke-width="1" fill="none"/>
<path d="M35 330.40h-3.2M35 325.52h-1.5M35 320.65h-2.2M35 315.77h-1.5M35 310.90h-3.2M35 306.02h-1.5M35 301.15h-2.2M35 296.27h-1.5M35 291.40h-3.2M35 286.52h-1.5M35 281.65h-2.2M35 276.77h-1.5M35 271.90h-3.2M35 267.02h-1.5M35 262.15h-2.2M35 257.27h-1.5M35 252.40h-3.2M35 247.52h-1.5M35 242.65h-2.2M35 237.77h-1.5M35 232.90h-3.2M35 228.02h-1.5M35 223.15h-2.2M35 218.27h-1.5M35 213.40h-3.2M35 208.52h-1.5M35 207.8h-2.5M34.70 330.4v3.0M52.77 330.4v1.8M70.84 330.4v3.0M88.91 330.4v1.8M106.98 330.4v3.0M125.05 330.4v1.8M143.12 330.4v3.0M161.19 330.4v1.8M179.26 330.4v3.0M197.33 330.4v1.8M215.40 330.4v3.0M233.47 330.4v1.8" stroke="#333" stroke-width="0.6" fill="none"/>
<text x="31.3" y="314" text-anchor="end" class="tk">20</text>
<text x="31.3" y="295" text-anchor="end" class="tk">40</text>
<text x="31.3" y="275" text-anchor="end" class="tk">60</text>
<text x="31.3" y="256" text-anchor="end" class="tk">80</text>
<text x="31.3" y="236" text-anchor="end" class="tk">100</text>
<text x="31.3" y="217" text-anchor="end" class="tk">120</text>
<text x="28.7" y="341.0" text-anchor="middle" class="tk">0</text>
<text x="70.8" y="341.0" text-anchor="middle" class="tk">0.2</text>
<text x="107.0" y="341.0" text-anchor="middle" class="tk">0.4</text>
<text x="143.1" y="341.0" text-anchor="middle" class="tk">0.6</text>
<text x="179.3" y="341.0" text-anchor="middle" class="tk">0.8</text>
<text x="215.4" y="341.0" text-anchor="middle" class="tk">1.0</text>
<text x="129.3" y="351.79999999999995" text-anchor="middle" class="lb">Time (s)</text>
<text transform="translate(12.8,273.9) rotate(-90)" text-anchor="middle" class="lb">Strength (dB)</text>
<text x="130.6" y="203.60000000000002" text-anchor="middle" class="tt">Long window length</text>
<path d="M270.5 88.3H314.5V79.5L330.8 91L314.5 102.5V93.7H270.5Z" fill="#fff" stroke="#333" stroke-width="1"/>
<path d="M270.5 266.3H314.5V257.5L330.8 269L314.5 280.5V271.7H270.5Z" fill="#fff" stroke="#333" stroke-width="1"/>
<line x1="439.1" y1="68.6" x2="439.1" y2="82.4" stroke="#000" stroke-opacity="0.02" stroke-width="1.2"/>
<line x1="435.9" y1="71.4" x2="435.9" y2="97.3" stroke="#000" stroke-opacity="0.02" stroke-width="1.2"/>
<line x1="405.0" y1="61.1" x2="405.0" y2="70.1" stroke="#000" stroke-opacity="0.02" stroke-width="1.2"/>
<line x1="430.3" y1="58.4" x2="430.3" y2="75.6" stroke="#000" stroke-opacity="0.02" stroke-width="1.2"/>
<line x1="446.9" y1="62.2" x2="446.9" y2="83.7" stroke="#000" stroke-opacity="0.02" stroke-width="1.2"/>
<line x1="442.3" y1="58.4" x2="442.3" y2="77.5" stroke="#000" stroke-opacity="0.02" stroke-width="1.2"/>
<line x1="415.7" y1="64.2" x2="415.7" y2="77.9" stroke="#000" stroke-opacity="0.02" stroke-width="1.2"/>
<line x1="450.5" y1="64.6" x2="450.5" y2="75.7" stroke="#000" stroke-opacity="0.02" stroke-width="1.2"/>
<line x1="438.6" y1="69.7" x2="438.6" y2="83.8" stroke="#000" stroke-opacity="0.02" stroke-width="1.2"/>
<line x1="412.8" y1="63.8" x2="412.8" y2="90.5" stroke="#000" stroke-opacity="0.02" stroke-width="1.2"/>
<line x1="473.1" y1="68.1" x2="473.1" y2="94.1" stroke="#000" stroke-opacity="0.02" stroke-width="1.2"/>
<line x1="462.7" y1="63.7" x2="462.7" y2="73.5" stroke="#000" stroke-opacity="0.02" stroke-width="1.2"/>
<line x1="447.3" y1="66.4" x2="447.3" y2="81.6" stroke="#000" stroke-opacity="0.02" stroke-width="1.2"/>
<line x1="413.0" y1="64.1" x2="413.0" y2="81.5" stroke="#000" stroke-opacity="0.02" stroke-width="1.2"/>
<line x1="416.5" y1="62.4" x2="416.5" y2="79.5" stroke="#000" stroke-opacity="0.02" stroke-width="1.2"/>
<line x1="463.8" y1="66.8" x2="463.8" y2="80.5" stroke="#000" stroke-opacity="0.02" stroke-width="1.2"/>
<line x1="417.2" y1="64.8" x2="417.2" y2="76.9" stroke="#000" stroke-opacity="0.02" stroke-width="1.2"/>
<line x1="411.1" y1="65.7" x2="411.1" y2="75.5" stroke="#000" stroke-opacity="0.02" stroke-width="1.2"/>
<line x1="433.7" y1="63.4" x2="433.7" y2="85.6" stroke="#000" stroke-opacity="0.02" stroke-width="1.2"/>
<line x1="454.7" y1="68.4" x2="454.7" y2="90.2" stroke="#000" stroke-opacity="0.02" stroke-width="1.2"/>
<line x1="424.9" y1="68.0" x2="424.9" y2="82.8" stroke="#000" stroke-opacity="0.02" stroke-width="1.2"/>
<line x1="440.8" y1="62.9" x2="440.8" y2="79.8" stroke="#000" stroke-opacity="0.02" stroke-width="1.2"/>
<line x1="399.9" y1="61.6" x2="399.9" y2="89.1" stroke="#000" stroke-opacity="0.02" stroke-width="1.2"/>
<line x1="413.4" y1="68.4" x2="413.4" y2="89.4" stroke="#000" stroke-opacity="0.02" stroke-width="1.2"/>
<line x1="452.9" y1="65.1" x2="452.9" y2="85.1" stroke="#000" stroke-opacity="0.02" stroke-width="1.2"/>
<line x1="400.4" y1="59.1" x2="400.4" y2="71.1" stroke="#000" stroke-opacity="0.02" stroke-width="1.2"/>
<line x1="407.1" y1="59.5" x2="407.1" y2="70.1" stroke="#000" stroke-opacity="0.02" stroke-width="1.2"/>
<line x1="439.3" y1="60.8" x2="439.3" y2="87.9" stroke="#000" stroke-opacity="0.02" stroke-width="1.2"/>
<line x1="449.5" y1="66.1" x2="449.5" y2="88.3" stroke="#000" stroke-opacity="0.02" stroke-width="1.2"/>
<line x1="416.1" y1="71.9" x2="416.1" y2="96.7" stroke="#000" stroke-opacity="0.02" stroke-width="1.2"/>
<line x1="453.1" y1="65.2" x2="453.1" y2="90.0" stroke="#000" stroke-opacity="0.02" stroke-width="1.2"/>
<line x1="454.6" y1="67.9" x2="454.6" y2="94.2" stroke="#000" stroke-opacity="0.02" stroke-width="1.2"/>
<line x1="445.7" y1="63.5" x2="445.7" y2="82.5" stroke="#000" stroke-opacity="0.02" stroke-width="1.2"/>
<line x1="410.7" y1="60.9" x2="410.7" y2="83.4" stroke="#000" stroke-opacity="0.02" stroke-width="1.2"/>
<line x1="457.8" y1="72.6" x2="457.8" y2="97.6" stroke="#000" stroke-opacity="0.02" stroke-width="1.2"/>
<line x1="438.5" y1="59.3" x2="438.5" y2="77.1" stroke="#000" stroke-opacity="0.02" stroke-width="1.2"/>
<line x1="469.2" y1="69.8" x2="469.2" y2="87.5" stroke="#000" stroke-opacity="0.02" stroke-width="1.2"/>
<line x1="431.4" y1="61.3" x2="431.4" y2="72.8" stroke="#000" stroke-opacity="0.02" stroke-width="1.2"/>
<line x1="400.9" y1="71.4" x2="400.9" y2="92.2" stroke="#000" stroke-opacity="0.02" stroke-width="1.2"/>
<line x1="406.5" y1="64.2" x2="406.5" y2="73.2" stroke="#000" stroke-opacity="0.02" stroke-width="1.2"/>
<rect x="372.5" y="136" width="130.89999999999998" height="6" fill="#eaeaea"/>
<rect x="372.5" y="142" width="130.89999999999998" height="6" fill="#c8c8c8"/>
<g filter="url(#bl)">
<rect x="386" y="112" width="6.0" height="6" fill="#f2f2f2"/>
<rect x="432" y="112" width="7.5" height="6" fill="#e0e0e0"/>
<rect x="386" y="106" width="7.0" height="6" fill="#e1e1e1"/>
<rect x="393" y="106" width="7.0" height="6" fill="#e8e8e8"/>
<rect x="400" y="106" width="6.0" height="6" fill="#f3f3f3"/>
<rect x="430" y="106" width="2.0" height="6" fill="#e8e8e8"/>
<rect x="432" y="106" width="7.5" height="6" fill="#7e7e7e"/>
<rect x="439.5" y="106" width="2.5" height="6" fill="#eeeeee"/>
<rect x="391.5" y="100" width="8.5" height="6" fill="#dedede"/>
<rect x="400" y="100" width="7.5" height="6" fill="#969696"/>
<rect x="407.5" y="100" width="3.0" height="6" fill="#bfbfbf"/>
<rect x="410.5" y="100" width="19.5" height="6" fill="#f0f0f0"/>
<rect x="430" y="100" width="22.5" height="6" fill="#cdcdcd"/>
<rect x="452.5" y="100" width="16.5" height="6" fill="#ededed"/>
<rect x="400" y="94" width="4.0" height="6" fill="#c8c8c8"/>
<rect x="404" y="94" width="5.0" height="6" fill="#b3b3b3"/>
<rect x="409" y="94" width="4.0" height="6" fill="#868686"/>
<rect x="413" y="94" width="13.0" height="6" fill="#f0f0f0"/>
<rect x="426" y="94" width="4.0" height="6" fill="#b3b3b3"/>
<rect x="448" y="94" width="17.0" height="6" fill="#e2e2e2"/>
<rect x="465" y="94" width="4.0" height="6" fill="#b1b1b1"/>
<rect x="409.8" y="88" width="1.2" height="6" fill="#dcdcdc"/>
<rect x="411" y="88" width="5.0" height="6" fill="#7e7e7e"/>
<rect x="416" y="88" width="3.0" height="6" fill="#afafaf"/>
<rect x="419" y="88" width="7.0" height="6" fill="#828282"/>
<rect x="426" y="88" width="3.0" height="6" fill="#c8c8c8"/>
<rect x="466" y="88" width="6.4" height="6" fill="#b7b7b7"/>
<rect x="472.4" y="88" width="1.6" height="6" fill="#e4e4e4"/>
<rect x="412" y="82" width="2.0" height="6" fill="#cdcdcd"/>
<rect x="414" y="82" width="5.0" height="6" fill="#9f9f9f"/>
<rect x="419" y="82" width="7.0" height="6" fill="#bbbbbb"/>
<rect x="426" y="82" width="2.0" height="6" fill="#eeeeee"/>
<rect x="470.5" y="82" width="3.5" height="6" fill="#dedede"/>
<rect x="414" y="76" width="11.0" height="6" fill="#f3f3f3"/>
<rect x="471" y="76" width="3.5" height="6" fill="#f2f2f2"/>
<rect x="486" y="94" width="2.0" height="6" fill="#ececec"/>
<rect x="486.5" y="100" width="2.5" height="6" fill="#e0e0e0"/>
<rect x="487.5" y="106" width="2.5" height="6" fill="#c0c0c0"/>
<rect x="488" y="112" width="2.5" height="5" fill="#cccccc"/>
<line x1="385.0" y1="74" x2="385.0" y2="120" stroke="#fff" stroke-opacity="0.10" stroke-width="0.7"/>
<line x1="386.7" y1="74" x2="386.7" y2="120" stroke="#fff" stroke-opacity="0.09" stroke-width="0.7"/>
<line x1="388.4" y1="74" x2="388.4" y2="120" stroke="#fff" stroke-opacity="0.22" stroke-width="0.7"/>
<line x1="389.9" y1="74" x2="389.9" y2="120" stroke="#fff" stroke-opacity="0.34" stroke-width="0.7"/>
<line x1="391.3" y1="74" x2="391.3" y2="120" stroke="#fff" stroke-opacity="0.13" stroke-width="0.7"/>
<line x1="392.5" y1="74" x2="392.5" y2="120" stroke="#fff" stroke-opacity="0.04" stroke-width="0.7"/>
<line x1="394.1" y1="74" x2="394.1" y2="120" stroke="#fff" stroke-opacity="0.20" stroke-width="0.7"/>
<line x1="395.2" y1="74" x2="395.2" y2="120" stroke="#fff" stroke-opacity="0.40" stroke-width="0.7"/>
<line x1="396.4" y1="74" x2="396.4" y2="120" stroke="#fff" stroke-opacity="0.19" stroke-width="0.7"/>
<line x1="397.7" y1="74" x2="397.7" y2="120" stroke="#fff" stroke-opacity="0.28" stroke-width="0.7"/>
<line x1="399.1" y1="74" x2="399.1" y2="120" stroke="#fff" stroke-opacity="0.27" stroke-width="0.7"/>
<line x1="400.3" y1="74" x2="400.3" y2="120" stroke="#fff" stroke-opacity="0.13" stroke-width="0.7"/>
<line x1="401.5" y1="74" x2="401.5" y2="120" stroke="#fff" stroke-opacity="0.15" stroke-width="0.7"/>
<line x1="402.7" y1="74" x2="402.7" y2="120" stroke="#fff" stroke-opacity="0.07" stroke-width="0.7"/>
<line x1="404.4" y1="74" x2="404.4" y2="120" stroke="#fff" stroke-opacity="0.43" stroke-width="0.7"/>
<line x1="405.6" y1="74" x2="405.6" y2="120" stroke="#fff" stroke-opacity="0.01" stroke-width="0.7"/>
<line x1="406.7" y1="74" x2="406.7" y2="120" stroke="#fff" stroke-opacity="0.31" stroke-width="0.7"/>
<line x1="408.4" y1="74" x2="408.4" y2="120" stroke="#fff" stroke-opacity="0.01" stroke-width="0.7"/>
<line x1="409.8" y1="74" x2="409.8" y2="120" stroke="#fff" stroke-opacity="0.00" stroke-width="0.7"/>
<line x1="411.2" y1="74" x2="411.2" y2="120" stroke="#fff" stroke-opacity="0.29" stroke-width="0.7"/>
<line x1="413.0" y1="74" x2="413.0" y2="120" stroke="#fff" stroke-opacity="0.12" stroke-width="0.7"/>
<line x1="414.7" y1="74" x2="414.7" y2="120" stroke="#fff" stroke-opacity="0.39" stroke-width="0.7"/>
<line x1="416.4" y1="74" x2="416.4" y2="120" stroke="#fff" stroke-opacity="0.00" stroke-width="0.7"/>
<line x1="417.8" y1="74" x2="417.8" y2="120" stroke="#fff" stroke-opacity="0.44" stroke-width="0.7"/>
<line x1="419.1" y1="74" x2="419.1" y2="120" stroke="#fff" stroke-opacity="0.37" stroke-width="0.7"/>
<line x1="420.5" y1="74" x2="420.5" y2="120" stroke="#fff" stroke-opacity="0.35" stroke-width="0.7"/>
<line x1="421.9" y1="74" x2="421.9" y2="120" stroke="#fff" stroke-opacity="0.01" stroke-width="0.7"/>
<line x1="423.0" y1="74" x2="423.0" y2="120" stroke="#fff" stroke-opacity="0.05" stroke-width="0.7"/>
<line x1="424.2" y1="74" x2="424.2" y2="120" stroke="#fff" stroke-opacity="0.43" stroke-width="0.7"/>
<line x1="425.7" y1="74" x2="425.7" y2="120" stroke="#fff" stroke-opacity="0.37" stroke-width="0.7"/>
<line x1="427.2" y1="74" x2="427.2" y2="120" stroke="#fff" stroke-opacity="0.29" stroke-width="0.7"/>
<line x1="428.8" y1="74" x2="428.8" y2="120" stroke="#fff" stroke-opacity="0.42" stroke-width="0.7"/>
<line x1="430.5" y1="74" x2="430.5" y2="120" stroke="#fff" stroke-opacity="0.37" stroke-width="0.7"/>
<line x1="431.6" y1="74" x2="431.6" y2="120" stroke="#fff" stroke-opacity="0.16" stroke-width="0.7"/>
<line x1="432.6" y1="74" x2="432.6" y2="120" stroke="#fff" stroke-opacity="0.25" stroke-width="0.7"/>
<line x1="434.3" y1="74" x2="434.3" y2="120" stroke="#fff" stroke-opacity="0.02" stroke-width="0.7"/>
<line x1="435.4" y1="74" x2="435.4" y2="120" stroke="#fff" stroke-opacity="0.16" stroke-width="0.7"/>
<line x1="436.6" y1="74" x2="436.6" y2="120" stroke="#fff" stroke-opacity="0.36" stroke-width="0.7"/>
<line x1="437.9" y1="74" x2="437.9" y2="120" stroke="#fff" stroke-opacity="0.29" stroke-width="0.7"/>
<line x1="439.3" y1="74" x2="439.3" y2="120" stroke="#fff" stroke-opacity="0.26" stroke-width="0.7"/>
<line x1="441.0" y1="74" x2="441.0" y2="120" stroke="#fff" stroke-opacity="0.42" stroke-width="0.7"/>
<line x1="442.1" y1="74" x2="442.1" y2="120" stroke="#fff" stroke-opacity="0.38" stroke-width="0.7"/>
<line x1="443.4" y1="74" x2="443.4" y2="120" stroke="#fff" stroke-opacity="0.05" stroke-width="0.7"/>
<line x1="444.7" y1="74" x2="444.7" y2="120" stroke="#fff" stroke-opacity="0.23" stroke-width="0.7"/>
<line x1="446.5" y1="74" x2="446.5" y2="120" stroke="#fff" stroke-opacity="0.17" stroke-width="0.7"/>
<line x1="447.5" y1="74" x2="447.5" y2="120" stroke="#fff" stroke-opacity="0.39" stroke-width="0.7"/>
<line x1="448.6" y1="74" x2="448.6" y2="120" stroke="#fff" stroke-opacity="0.22" stroke-width="0.7"/>
<line x1="450.3" y1="74" x2="450.3" y2="120" stroke="#fff" stroke-opacity="0.23" stroke-width="0.7"/>
<line x1="451.6" y1="74" x2="451.6" y2="120" stroke="#fff" stroke-opacity="0.36" stroke-width="0.7"/>
<line x1="452.6" y1="74" x2="452.6" y2="120" stroke="#fff" stroke-opacity="0.26" stroke-width="0.7"/>
<line x1="454.0" y1="74" x2="454.0" y2="120" stroke="#fff" stroke-opacity="0.44" stroke-width="0.7"/>
<line x1="455.6" y1="74" x2="455.6" y2="120" stroke="#fff" stroke-opacity="0.02" stroke-width="0.7"/>
<line x1="456.8" y1="74" x2="456.8" y2="120" stroke="#fff" stroke-opacity="0.20" stroke-width="0.7"/>
<line x1="458.3" y1="74" x2="458.3" y2="120" stroke="#fff" stroke-opacity="0.15" stroke-width="0.7"/>
<line x1="459.6" y1="74" x2="459.6" y2="120" stroke="#fff" stroke-opacity="0.41" stroke-width="0.7"/>
<line x1="461.4" y1="74" x2="461.4" y2="120" stroke="#fff" stroke-opacity="0.18" stroke-width="0.7"/>
<line x1="463.1" y1="74" x2="463.1" y2="120" stroke="#fff" stroke-opacity="0.15" stroke-width="0.7"/>
<line x1="464.2" y1="74" x2="464.2" y2="120" stroke="#fff" stroke-opacity="0.24" stroke-width="0.7"/>
<line x1="465.7" y1="74" x2="465.7" y2="120" stroke="#fff" stroke-opacity="0.40" stroke-width="0.7"/>
<line x1="467.5" y1="74" x2="467.5" y2="120" stroke="#fff" stroke-opacity="0.35" stroke-width="0.7"/>
<line x1="469.1" y1="74" x2="469.1" y2="120" stroke="#fff" stroke-opacity="0.32" stroke-width="0.7"/>
<line x1="470.6" y1="74" x2="470.6" y2="120" stroke="#fff" stroke-opacity="0.35" stroke-width="0.7"/>
<line x1="472.4" y1="74" x2="472.4" y2="120" stroke="#fff" stroke-opacity="0.17" stroke-width="0.7"/>
<line x1="473.5" y1="74" x2="473.5" y2="120" stroke="#fff" stroke-opacity="0.11" stroke-width="0.7"/>
<line x1="474.7" y1="74" x2="474.7" y2="120" stroke="#fff" stroke-opacity="0.16" stroke-width="0.7"/>
<line x1="476.3" y1="74" x2="476.3" y2="120" stroke="#fff" stroke-opacity="0.03" stroke-width="0.7"/>
<line x1="477.7" y1="74" x2="477.7" y2="120" stroke="#fff" stroke-opacity="0.37" stroke-width="0.7"/>
<line x1="478.9" y1="74" x2="478.9" y2="120" stroke="#fff" stroke-opacity="0.03" stroke-width="0.7"/>
<line x1="480.1" y1="74" x2="480.1" y2="120" stroke="#fff" stroke-opacity="0.04" stroke-width="0.7"/>
<line x1="481.7" y1="74" x2="481.7" y2="120" stroke="#fff" stroke-opacity="0.08" stroke-width="0.7"/>
<line x1="482.9" y1="74" x2="482.9" y2="120" stroke="#fff" stroke-opacity="0.37" stroke-width="0.7"/>
<line x1="484.5" y1="74" x2="484.5" y2="120" stroke="#fff" stroke-opacity="0.27" stroke-width="0.7"/>
<line x1="486.3" y1="74" x2="486.3" y2="120" stroke="#fff" stroke-opacity="0.03" stroke-width="0.7"/>
<line x1="488.0" y1="74" x2="488.0" y2="120" stroke="#fff" stroke-opacity="0.26" stroke-width="0.7"/>
<line x1="489.3" y1="74" x2="489.3" y2="120" stroke="#fff" stroke-opacity="0.37" stroke-width="0.7"/>
<line x1="490.8" y1="74" x2="490.8" y2="120" stroke="#fff" stroke-opacity="0.44" stroke-width="0.7"/>
<line x1="491.9" y1="74" x2="491.9" y2="120" stroke="#fff" stroke-opacity="0.26" stroke-width="0.7"/>
</g>
<path d="M372.5 27.5H503.4V148" fill="none" stroke="#999" stroke-width="0.8"/>
<path d="M372.5 27.5V148H503.4" fill="none" stroke="#4a4a4a" stroke-width="0.9"/>
<path d="M372.5 148.00h-1.4M372.5 128.00h-1.4M372.5 108.00h-1.4M372.5 88.00h-1.4M372.5 68.00h-1.4M372.5 48.00h-1.4M372.5 28.00h-1.4M373.00 148v1.4M396.40 148v1.4M419.80 148v1.4M443.20 148v1.4M466.60 148v1.4M490.00 148v1.4" stroke="#222" stroke-width="0.8" fill="none"/>
<text x="370.7" y="131.5" text-anchor="end" class="tk">5</text>
<text x="370.7" y="111.5" text-anchor="end" class="tk">10</text>
<text x="370.7" y="91.5" text-anchor="end" class="tk">15</text>
<text x="370.7" y="71.5" text-anchor="end" class="tk">20</text>
<text x="370.7" y="51.5" text-anchor="end" class="tk">25</text>
<text x="370.7" y="31.5" text-anchor="end" class="tk">30</text>
<text x="368.7" y="158.8" text-anchor="middle" class="tk">0</text>
<text x="396.4" y="158.8" text-anchor="middle" class="tk">0.2</text>
<text x="419.8" y="158.8" text-anchor="middle" class="tk">0.4</text>
<text x="443.2" y="158.8" text-anchor="middle" class="tk">0.6</text>
<text x="466.6" y="158.8" text-anchor="middle" class="tk">0.8</text>
<text x="490.0" y="158.8" text-anchor="middle" class="tk">1.0</text>
<text x="442.3" y="169.3" text-anchor="middle" class="lb">Time (s)</text>
<text transform="translate(354.5,86.25) rotate(-90)" text-anchor="middle" class="lb2">Frequency (kHz)</text>
<text x="441.5" y="12.3" text-anchor="middle" class="tt">High time resolution</text>
<text x="441.5" y="23.2" text-anchor="middle" class="tt">Low frequency resolution</text>
<rect x="511.7" y="27.5" width="5.8" height="120.5" fill="url(#cb)" stroke="#777" stroke-width="0.5"/>
<text x="520.5" y="152.4" class="tk">0</text>
<text x="520.5" y="136.0" class="tk">10</text>
<text x="520.5" y="119.5" class="tk">20</text>
<text x="520.5" y="103.1" class="tk">30</text>
<text x="520.5" y="86.6" class="tk">40</text>
<text x="520.5" y="70.2" class="tk">50</text>
<text x="520.5" y="53.7" class="tk">60</text>
<text x="520.5" y="37.3" class="tk">70</text>
<path d="M517.5 148.00h1.8M517.5 131.55h1.8M517.5 115.10h1.8M517.5 98.65h1.8M517.5 82.20h1.8M517.5 65.75h1.8M517.5 49.30h1.8M517.5 32.85h1.8" stroke="#222" stroke-width="0.7" fill="none"/>
<text transform="translate(543,84.75) rotate(-90)" text-anchor="middle" class="lb">Strength (dB)</text>
<polyline points="389,295.5 396,293.5 404,290 410,287.5 412,285.5" fill="none" stroke="#ececec" stroke-width="1.3"/>
<polyline points="412,285 413.5,279 415,276" fill="none" stroke="#d6d6d6" stroke-width="1.5"/>
<polyline points="415,275 418,274.6 422.5,275" fill="none" stroke="#e0e0e0" stroke-width="1.4"/>
<polyline points="422.5,275 426,277.5 429.5,281.5" fill="none" stroke="#d2d2d2" stroke-width="1.5"/>
<polyline points="431,292.5 435,293.8 440,294" fill="none" stroke="#cacaca" stroke-width="1.5"/>
<polyline points="440,294 446,293 452.5,291" fill="none" stroke="#dedede" stroke-width="1.4"/>
<polyline points="452.5,291 460,287.5 466,284 471,278" fill="none" stroke="#eeeeee" stroke-width="1.3"/>
<g filter="url(#bl)">
</g>
<path d="M372.5 210.5H503.4V331" fill="none" stroke="#999" stroke-width="0.8"/>
<path d="M372.5 210.5V331H503.4" fill="none" stroke="#4a4a4a" stroke-width="0.9"/>
<path d="M372.5 331.00h-1.4M372.5 311.00h-1.4M372.5 291.00h-1.4M372.5 271.00h-1.4M372.5 251.00h-1.4M372.5 231.00h-1.4M372.5 211.00h-1.4M373.00 331v1.4M396.40 331v1.4M419.80 331v1.4M443.20 331v1.4M466.60 331v1.4M490.00 331v1.4" stroke="#222" stroke-width="0.8" fill="none"/>
<text x="370.7" y="314.5" text-anchor="end" class="tk">5</text>
<text x="370.7" y="294.5" text-anchor="end" class="tk">10</text>
<text x="370.7" y="274.5" text-anchor="end" class="tk">15</text>
<text x="370.7" y="254.5" text-anchor="end" class="tk">20</text>
<text x="370.7" y="234.5" text-anchor="end" class="tk">25</text>
<text x="370.7" y="214.5" text-anchor="end" class="tk">30</text>
<text x="368.7" y="341.8" text-anchor="middle" class="tk">0</text>
<text x="396.4" y="341.8" text-anchor="middle" class="tk">0.2</text>
<text x="419.8" y="341.8" text-anchor="middle" class="tk">0.4</text>
<text x="443.2" y="341.8" text-anchor="middle" class="tk">0.6</text>
<text x="466.6" y="341.8" text-anchor="middle" class="tk">0.8</text>
<text x="490.0" y="341.8" text-anchor="middle" class="tk">1.0</text>
<text x="442.3" y="352.3" text-anchor="middle" class="lb">Time (s)</text>
<text transform="translate(354.5,269.25) rotate(-90)" text-anchor="middle" class="lb2">Frequency (kHz)</text>
<text x="441.5" y="194.8" text-anchor="middle" class="tt">Low time resolution</text>
<text x="441.5" y="205.7" text-anchor="middle" class="tt">High frequency resolution</text>
<rect x="511.7" y="210.5" width="5.8" height="120.5" fill="url(#cb)" stroke="#777" stroke-width="0.5"/>
<text x="520.5" y="336.4" class="tk">0</text>
<text x="520.5" y="319.9" class="tk">10</text>
<text x="520.5" y="303.5" class="tk">20</text>
<text x="520.5" y="287.0" class="tk">30</text>
<text x="520.5" y="270.6" class="tk">40</text>
<text x="520.5" y="254.2" class="tk">50</text>
<text x="520.5" y="237.7" class="tk">60</text>
<text x="520.5" y="221.3" class="tk">70</text>
<path d="M517.5 331.00h1.8M517.5 314.55h1.8M517.5 298.10h1.8M517.5 281.65h1.8M517.5 265.20h1.8M517.5 248.75h1.8M517.5 232.30h1.8M517.5 215.85h1.8" stroke="#222" stroke-width="0.7" fill="none"/>
<text transform="translate(543,267.75) rotate(-90)" text-anchor="middle" class="lb">Strength (dB)</text>
</svg>
</body></html>
